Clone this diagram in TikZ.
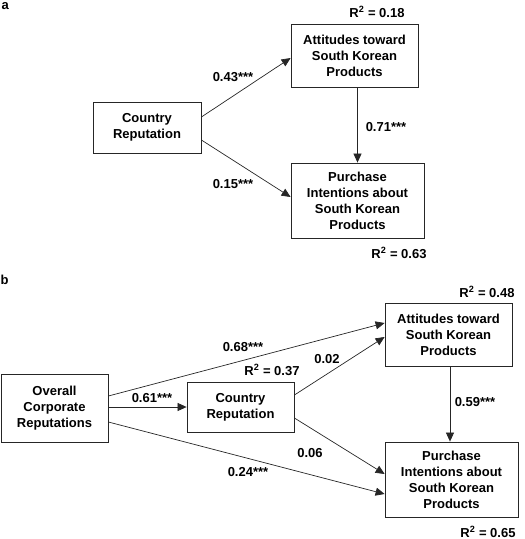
\documentclass[tikz,border=0pt]{standalone}
\usepackage{fontspec}
\setmainfont{Liberation Sans}
\usetikzlibrary{arrows.meta}
\begin{document}
\begin{tikzpicture}[x=1pt,y=-1pt,
  font=\fontsize{13}{16}\selectfont\bfseries,
  box/.style={draw=black!85, line width=0.8pt, align=center, inner sep=0pt},
  lbl/.style={inner sep=0pt},
  arr/.style={draw=black!85, line width=0.7pt, -{Triangle[length=9pt,width=8pt]}}]
\useasboundingbox (0,0) rectangle (525,539);
% panel a
\node[lbl, anchor=north west] (la) at (1.5,2) {a};
\node[box, minimum width=108, minimum height=51] (cr) at (147,127.5) {Country\\Reputation};
\node[box, minimum width=127, minimum height=63] (att) at (354.5,55.5) {Attitudes toward\\South Korean\\Products};
\node[box, minimum width=133, minimum height=75] (pur) at (357.5,200.5) {Purchase\\Intentions about\\South Korean\\Products};
\draw[arr] ([yshift=10.5pt]cr.east) -- ([yshift=-2.5pt]att.west);
\draw[arr] ([yshift=-12.5pt]cr.east) -- ([yshift=3.5pt]pur.west);
\draw[arr] (pur.north |- att.south) -- (pur.north);
\node[lbl] (ra) at (377,12) {R\textsuperscript{2} = 0.18};
\node[lbl] (rb) at (399,253) {R\textsuperscript{2} = 0.63};
\node[lbl] (e1) at (233,77) {0.43***};
\node[lbl] (e2) at (233,184) {0.15***};
\node[lbl] (e3) at (386,127) {0.71***};
% panel b
\node[lbl] (lb) at (4.5,280) {b};
\node[box, minimum width=107, minimum height=68] (oc) at (54.5,408) {Overall\\Corporate\\Reputations};
\node[box, minimum width=107, minimum height=50] (crb) at (240.5,407) {Country\\Reputation};
\node[box, minimum width=127, minimum height=63] (attb) at (448.5,334.5) {Attitudes toward\\South Korean\\Products};
\node[box, minimum width=133, minimum height=75] (purb) at (451.5,479.5) {Purchase\\Intentions about\\South Korean\\Products};
\draw[arr] ([yshift=12pt]oc.east) -- ([yshift=11.5pt]attb.west);
\draw[arr] (oc.east |- crb.west) -- (crb.west);
\draw[arr] ([yshift=12pt]crb.east) -- ([yshift=-2.5pt]attb.west);
\draw[arr] ([yshift=-11pt]crb.east) -- ([yshift=5.5pt]purb.west);
\draw[arr] ([yshift=-14pt]oc.east) -- ([yshift=-14.5pt]purb.west);
\draw[arr] ([xshift=1.5pt]attb.south) -- ([xshift=1.5pt]attb.south |- purb.north);
\node[lbl] (rc) at (487,292) {R\textsuperscript{2} = 0.48};
\node[lbl] (rd) at (272,370) {R\textsuperscript{2} = 0.37};
\node[lbl] (re) at (488,532) {R\textsuperscript{2} = 0.65};
\node[lbl] (f1) at (243,347) {0.68***};
\node[lbl] (f2) at (152,398) {0.61***};
\node[lbl] (f3) at (327,359) {0.02};
\node[lbl] (f4) at (310,453) {0.06};
\node[lbl] (f5) at (248,472) {0.24***};
\node[lbl] (f6) at (475,402) {0.59***};
\end{tikzpicture}
\end{document}
